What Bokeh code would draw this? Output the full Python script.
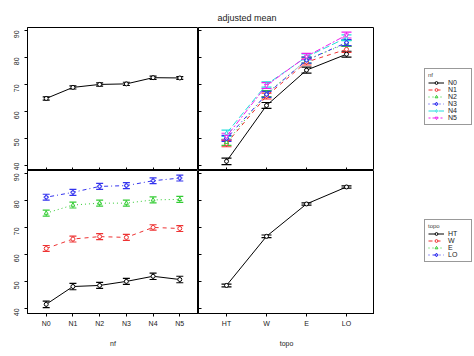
import math
from bokeh.plotting import figure
from bokeh.layouts import column, row
from bokeh.models import (ColumnDataSource, Range1d, FixedTicker, Whisker, TeeHead,
                          Legend, LegendItem, Title)
from bokeh.embed import file_html
from bokeh.resources import INLINE

# ---------------- data ----------------
nf_levels = ["N0", "N1", "N2", "N3", "N4", "N5"]
topo_levels = ["HT", "W", "E", "LO"]

nf_mean = [64.8, 68.9, 70.0, 70.2, 72.5, 72.4]
nf_err = [0.6, 0.6, 0.6, 0.6, 0.6, 0.5]

topo_mean = [48.5, 66.7, 78.7, 85.0]
topo_err = [0.5, 0.5, 0.4, 0.4]

# interaction means: rows = topo, columns = nf
HT = [41.5, 48.1, 48.5, 50.0, 51.9, 50.7]
W = [62.2, 65.7, 66.6, 66.3, 70.0, 69.6]
E = [75.3, 78.3, 79.0, 79.0, 80.2, 80.4]
LO = [81.2, 83.0, 85.2, 85.5, 87.3, 88.3]
HT_err = [1.2, 1.2, 1.1, 1.1, 1.2, 1.2]
W_err = [1.1, 1.1, 1.1, 1.1, 1.0, 1.1]
E_err = [1.1, 1.1, 1.1, 1.1, 1.1, 1.1]
LO_err = [1.1, 1.1, 1.1, 1.1, 1.1, 1.1]

title_text = "adjusted mean"
y_ticks = [40, 50, 60, 70, 80, 90]

# ---------------- style ----------------
FONT = "Liberation Sans"
colors = ["black", "#ee3333", "#33cc33", "#3333ee", "#22dddd", "#ee22ee"]
dashes = ["solid", "4 4", "1 3", "1 3 4 3", "7 3", "2 2 6 2"]
markers = ["circle", "circle", "triangle", "plus", "diamond", "inverted_triangle"]
YR = (38.1, 91.1)


def base_fig(w, h, left, right, top, bottom, xr):
    p = figure(width=w, height=h, output_backend="svg", toolbar_location=None,
               x_range=Range1d(*xr), y_range=Range1d(*YR),
               min_border_left=left, min_border_right=right,
               min_border_top=top, min_border_bottom=bottom)
    p.grid.visible = False
    p.outline_line_color = "black"
    p.outline_line_width = 1
    p.background_fill_color = "white"
    p.border_fill_color = "white"
    for ax in p.axis:
        ax.major_label_text_font = FONT
        ax.major_label_text_font_size = "7px"
        ax.major_label_text_color = "#222222"
        ax.minor_tick_line_color = None
        ax.axis_line_color = "black"
        ax.major_tick_line_color = "black"
    return p


def style_x(p, labels, show_labels, axis_label=None):
    ax = p.xaxis[0]
    ax.ticker = FixedTicker(ticks=list(range(len(labels))))
    if show_labels:
        ax.major_label_overrides = {i: s for i, s in enumerate(labels)}
        ax.major_tick_out = 3
        ax.major_tick_in = 0
        ax.major_label_standoff = 3
        ax.axis_label = axis_label
        ax.axis_label_text_font = FONT
        ax.axis_label_text_font_size = "7px"
        ax.axis_label_text_font_style = "normal"
        ax.axis_label_text_color = "#222222"
        ax.axis_label_standoff = 10
    else:
        ax.major_tick_out = 0
        ax.major_tick_in = 3
        ax.major_label_overrides = {i: "" for i in range(len(labels))}
        ax.major_label_standoff = 0


def style_y(p, show_labels):
    ax = p.yaxis[0]
    ax.ticker = FixedTicker(ticks=y_ticks)
    if show_labels:
        ax.major_tick_out = 3
        ax.major_tick_in = 0
        ax.major_label_orientation = math.pi / 2
        ax.major_label_standoff = 8
    else:
        ax.major_tick_out = 0
        ax.major_tick_in = 3
        ax.major_label_overrides = {t: "" for t in y_ticks}
        ax.major_label_standoff = 0


def draw_series(p, x, y, err, color, dash, marker, cap):
    src = ColumnDataSource(dict(x=x, y=y, lo=[a - b for a, b in zip(y, err)],
                                hi=[a + b for a, b in zip(y, err)]))
    p.line("x", "y", source=src, line_color=color, line_dash=dash, line_width=1)
    w = Whisker(base="x", lower="lo", upper="hi", source=src, line_color=color, line_width=1,
                upper_head=TeeHead(size=cap, line_color=color, line_width=1.2),
                lower_head=TeeHead(size=cap, line_color=color, line_width=1.2))
    p.add_layout(w)
    p.scatter("x", "y", source=src, marker=marker, size=4, line_color=color,
              fill_color="white", line_width=1)


def legend_fig(h, names, title, loc, bottom):
    p = figure(width=100, height=h, output_backend="svg", toolbar_location=None,
               x_range=Range1d(0, 1), y_range=Range1d(0, 1),
               min_border_left=0, min_border_right=0, min_border_top=27 if bottom == 0 else 0,
               min_border_bottom=bottom)
    p.axis.visible = False
    p.grid.visible = False
    p.outline_line_color = None
    items = []
    for i, n in enumerate(names):
        # off-range placeholder points so the legend can draw its sample glyphs
        src = ColumnDataSource(dict(x=[-5, -4], y=[-5, -5]))
        ln = p.line("x", "y", source=src, line_color=colors[i], line_dash=dashes[i], line_width=1)
        sc = p.scatter("x", "y", source=src, marker=markers[i], size=4, line_color=colors[i],
                       fill_color="white", line_width=1)
        items.append(LegendItem(label=n, renderers=[ln, sc]))
    lg = Legend(items=items, title=title, location=loc, margin=0,
                label_text_font=FONT, label_text_font_size="7px",
                label_text_color="#222222",
                title_text_font=FONT, title_text_font_size="6px",
                title_text_font_style="normal", title_standoff=1,
                glyph_height=7, glyph_width=16, label_height=7, label_standoff=4,
                spacing=0, padding=3, border_line_color="#333333",
                background_fill_alpha=1.0)
    p.add_layout(lg, "center")
    return p


XL = (-0.7, 5.7)
XR = (-0.7, 3.7)
nf_x = list(range(len(nf_levels)))
topo_x = list(range(len(topo_levels)))
inter = [HT, W, E, LO]
inter_err = [HT_err, W_err, E_err, LO_err]

# top-left: nf marginal
p_tl = base_fig(198, 170, 27, 0, 27, 0, XL)
style_x(p_tl, nf_levels, False)
style_y(p_tl, True)
draw_series(p_tl, nf_x, nf_mean, nf_err, "black", "solid", "circle", 7)

# top-right: topo x nf lines
p_tr = base_fig(176, 170, 0, 0, 27, 0, XR)
style_x(p_tr, topo_levels, False)
style_y(p_tr, False)
for j in range(len(nf_levels)):
    ys = [inter[i][j] for i in range(len(topo_levels))]
    es = [inter_err[i][j] for i in range(len(topo_levels))]
    draw_series(p_tr, topo_x, ys, es, colors[j], dashes[j], markers[j], 10)
p_tr.add_layout(Title(text=title_text, align="left", offset=19, text_font=FONT,
                      text_font_size="9px", text_font_style="normal",
                      text_color="#222222"), "above")

# bottom-left: nf x topo lines
p_bl = base_fig(198, 186, 27, 0, 0, 43, XL)
style_x(p_bl, nf_levels, True, "nf")
style_y(p_bl, True)
for i in range(len(topo_levels)):
    draw_series(p_bl, nf_x, inter[i], inter_err[i], colors[i], dashes[i], markers[i], 7)

# bottom-right: topo marginal
p_br = base_fig(176, 186, 0, 0, 0, 43, XR)
style_x(p_br, topo_levels, True, "topo")
style_y(p_br, False)
draw_series(p_br, topo_x, topo_mean, topo_err, "black", "solid", "circle", 10)

lg_top = legend_fig(170, nf_levels, "nf", (50, 45), 0)
lg_bot = legend_fig(186, topo_levels, "topo", (50, 51), 43)

layout = column(row(p_tl, p_tr, lg_top), row(p_bl, p_br, lg_bot))
open("out.html", "w").write(file_html(layout, INLINE))
